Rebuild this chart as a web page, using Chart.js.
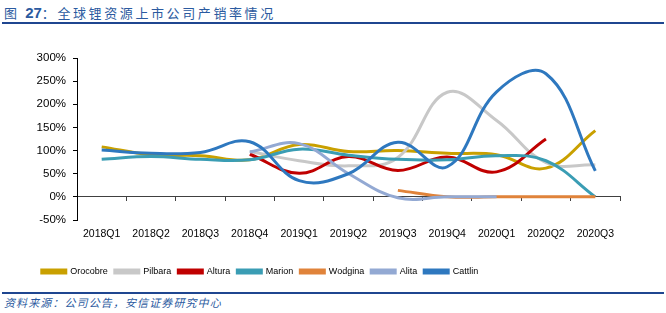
<!DOCTYPE html>
<html>
<head>
<meta charset="utf-8">
<script src="https://cdn.jsdelivr.net/npm/chart.js@4/dist/chart.umd.min.js"></script>
<style>
  body { margin: 0; background: #fff; width: 666px; height: 313px; overflow: hidden; position: relative; }
  #title { position: absolute; left: 4px; top: 3px; font: 13px "Noto Sans CJK SC", sans-serif; color: #2B5AA0; letter-spacing: 2.6px; white-space: nowrap; }
  #title b { font-family: "Liberation Sans", Arial, sans-serif; font-size: 15px; letter-spacing: 0; }
  .rule { position: absolute; left: 2px; width: 662px; height: 2px; background: #1F4690; }
  #source { position: absolute; left: 4px; top: 294px; font: italic 11px "Noto Sans CJK SC", sans-serif; color: #2B5AA0; white-space: nowrap; letter-spacing: 1.1px; }
  #wrap { position: absolute; left: 0; top: 0; width: 666px; height: 288px; }
</style>
</head>
<body>
<div id="title">图 <b>27</b>：全球锂资源上市公司产销率情况</div>
<div class="rule" style="top:22px"></div>
<div class="rule" style="top:292px"></div>
<div id="source">资料来源：公司公告，安信证券研究中心</div>
<div id="wrap"><canvas id="chart"></canvas></div>
<script>
const quarters = ["2018Q1","2018Q2","2018Q3","2018Q4","2019Q1","2019Q2","2019Q3","2019Q4","2020Q1","2020Q2","2020Q3"];
const orocobre = [108, 91, 89, 80, 113, 98, 100, 94, 91, 62, 143];
const pilbara  = [null, null, null, 98, 78, 67, 85, 226, 165, 74, 69];
const altura   = [null, null, null, 92, 51, 87, 57, 86, 54, 125, null];
const marion   = [81, 87, 81, 80, 103, 90, 81, 80, 89, 78, 0];
const wodgina  = [null, null, null, null, null, null, 14, 0, 0, 0, 0];
const alita    = [null, null, null, 97, 115, 50, -2, 0, 0, null, null];
const cattlin  = [101, 94, 96, 119, 35, 50, 118, 65, 227, 266, 56];

const seriesNames = ["Orocobre","Pilbara","Altura","Marion","Wodgina","Alita","Cattlin"];
const seriesData = [orocobre, pilbara, altura, marion, wodgina, alita, cattlin];
const seriesColors = ["#C9A000","#C8C8C8","#C00000","#3A9DB4","#E0833A","#93A9D3","#2E78BF"];

const datasets = seriesNames.map((name, i) => ({
    label: name,
    data: seriesData[i],
    borderColor: seriesColors[i],
    backgroundColor: seriesColors[i],
    borderWidth: 3,
    pointRadius: 0,
    tension: 0.4,
    spanGaps: false,
    order: seriesNames.length - i
}));

// legend in the original sits left of the plot centre
const shiftLegend = {
    id: 'shiftLegend',
    afterLayout(c) {
        c.legend.left -= 50;
        c.legend.right -= 50;
    }
};

const graf = document.getElementById("chart").getContext('2d');
const chart = new Chart(graf, {
    type: 'line',
    data: { labels: quarters, datasets: datasets },
    plugins: [shiftLegend],
    options: {
        responsive: true,
        maintainAspectRatio: false,
        animation: false,
        layout: { padding: { left: 0, right: 46, top: 58, bottom: 2 } },
        plugins: {
            tooltip: { enabled: false },
            legend: {
                position: 'bottom',
                labels: {
                    boxWidth: 24,
                    boxHeight: 3,
                    padding: 7,
                    color: '#000',
                    font: { family: 'Liberation Sans', size: 9 },
                    sort: (a, b) => a.datasetIndex - b.datasetIndex
                }
            }
        },
        scales: {
            x: {
                offset: true,
                border: { display: false },
                grid: { display: false },
                ticks: { color: '#000', font: { family: 'Liberation Sans', size: 10.5 }, maxRotation: 0, autoSkip: false, padding: 0 },
                afterFit: (s) => { s.height = 40; }
            },
            x0: {
                type: 'category',
                labels: quarters,
                offset: true,
                position: { y: 0 },
                border: { display: true, color: '#404040', width: 1 },
                grid: { offset: true, drawOnChartArea: false, drawTicks: true, tickLength: 4, color: '#404040' },
                ticks: { display: false }
            },
            y: {
                min: -50,
                max: 300,
                border: { display: true, color: '#000', width: 1 },
                grid: { drawOnChartArea: false, drawTicks: true, tickLength: 4, color: '#000' },
                ticks: {
                    stepSize: 50,
                    color: '#000',
                    padding: 7,
                    font: { family: 'Liberation Sans', size: 11.5 },
                    callback: (v) => v + '%'
                },
                afterFit: (s) => { s.width = 77; }
            }
        }
    }
});
</script>
</body>
</html>
